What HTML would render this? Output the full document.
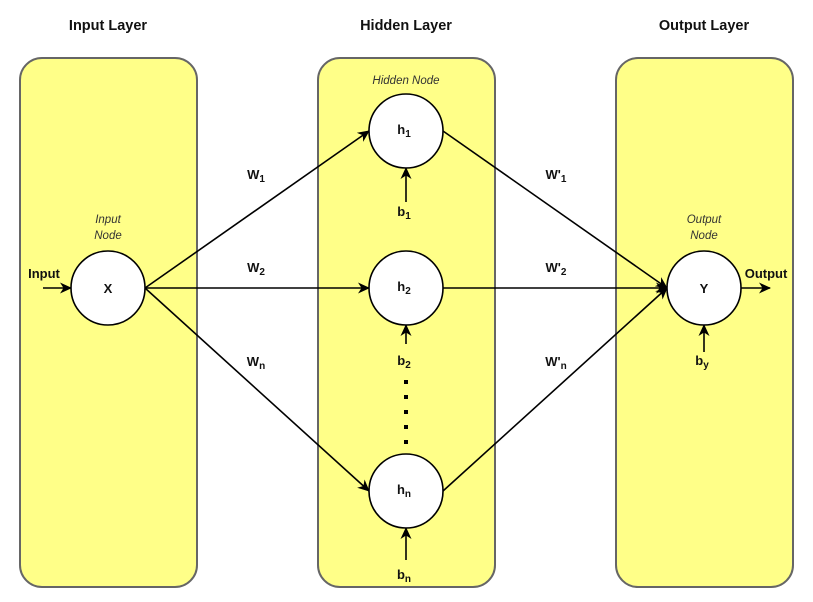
<!DOCTYPE html>
<html><head><meta charset="utf-8"><style>
html,body{margin:0;padding:0;background:#fff;}
svg{display:block;font-family:"Liberation Sans",Arial,sans-serif;}
.t{font-size:14.5px;font-weight:bold;fill:#111;text-anchor:middle;}
.l{font-size:13px;font-weight:bold;fill:#111;text-anchor:middle;}
.s{font-size:10px;}
.i{font-size:11.5px;font-style:italic;fill:#333;text-anchor:middle;}
.ln{stroke:#000;stroke-width:1.6;fill:none;}
</style></head><body>
<svg width="813" height="602" viewBox="0 0 813 602">
<defs><marker id="a" markerWidth="12" markerHeight="12" refX="11" refY="6" orient="auto" markerUnits="userSpaceOnUse"><path d="M0,0.5 L12,6 L0,11.5 L3.5,6 z" fill="#000"/></marker></defs>
<text class="t" x="108" y="30">Input Layer</text>
<text class="t" x="406" y="30">Hidden Layer</text>
<text class="t" x="704" y="30">Output Layer</text>
<rect x="20" y="58" width="177" height="529" rx="22" fill="#ffff88" stroke="#666" stroke-width="2"/>
<rect x="318" y="58" width="177" height="529" rx="22" fill="#ffff88" stroke="#666" stroke-width="2"/>
<rect x="616" y="58" width="177" height="529" rx="22" fill="#ffff88" stroke="#666" stroke-width="2"/>
<text class="i" x="108" y="223">Input</text><text class="i" x="108" y="239">Node</text>
<text class="i" x="406" y="84">Hidden Node</text>
<text class="i" x="704" y="223">Output</text><text class="i" x="704" y="239">Node</text>
<line class="ln" x1="145" y1="288" x2="369" y2="131" marker-end="url(#a)"/>
<line class="ln" x1="145" y1="288" x2="369" y2="288" marker-end="url(#a)"/>
<line class="ln" x1="145" y1="288" x2="369" y2="491" marker-end="url(#a)"/>
<line class="ln" x1="443" y1="131" x2="667" y2="288" marker-end="url(#a)"/>
<line class="ln" x1="443" y1="288" x2="667" y2="288" marker-end="url(#a)"/>
<line class="ln" x1="443" y1="491" x2="667" y2="288" marker-end="url(#a)"/>
<line class="ln" x1="43" y1="288" x2="71" y2="288" marker-end="url(#a)"/>
<line class="ln" x1="741" y1="288" x2="770" y2="288" marker-end="url(#a)"/>
<line class="ln" x1="406" y1="202" x2="406" y2="168" marker-end="url(#a)"/>
<line class="ln" x1="406" y1="344" x2="406" y2="325" marker-end="url(#a)"/>
<line class="ln" x1="406" y1="560" x2="406" y2="528" marker-end="url(#a)"/>
<line class="ln" x1="704" y1="352" x2="704" y2="325" marker-end="url(#a)"/>
<circle cx="108" cy="288" r="37" fill="#fff" stroke="#000" stroke-width="1.6"/>
<circle cx="406" cy="131" r="37" fill="#fff" stroke="#000" stroke-width="1.6"/>
<circle cx="406" cy="288" r="37" fill="#fff" stroke="#000" stroke-width="1.6"/>
<circle cx="406" cy="491" r="37" fill="#fff" stroke="#000" stroke-width="1.6"/>
<circle cx="704" cy="288" r="37" fill="#fff" stroke="#000" stroke-width="1.6"/>
<text class="l" x="108" y="293">X</text>
<text class="l" x="704" y="293">Y</text>
<text class="l" x="404" y="134">h<tspan class="s" dy="3">1</tspan></text>
<text class="l" x="404" y="291">h<tspan class="s" dy="3">2</tspan></text>
<text class="l" x="404" y="494">h<tspan class="s" dy="3">n</tspan></text>
<text class="l" x="404" y="216">b<tspan class="s" dy="3">1</tspan></text>
<text class="l" x="404" y="365">b<tspan class="s" dy="3">2</tspan></text>
<text class="l" x="404" y="579">b<tspan class="s" dy="3">n</tspan></text>
<text class="l" x="702" y="365">b<tspan class="s" dy="3">y</tspan></text>
<text class="l" x="44" y="278">Input</text>
<text class="l" x="766" y="278">Output</text>
<text class="l" x="256" y="179">W<tspan class="s" dy="3">1</tspan></text>
<text class="l" x="256" y="272">W<tspan class="s" dy="3">2</tspan></text>
<text class="l" x="256" y="366">W<tspan class="s" dy="3">n</tspan></text>
<text class="l" x="556" y="179">W'<tspan class="s" dy="3">1</tspan></text>
<text class="l" x="556" y="272">W'<tspan class="s" dy="3">2</tspan></text>
<text class="l" x="556" y="366">W'<tspan class="s" dy="3">n</tspan></text>
<g fill="#000">
<rect x="404" y="380" width="4" height="4"/><rect x="404" y="395" width="4" height="4"/><rect x="404" y="410" width="4" height="4"/><rect x="404" y="425" width="4" height="4"/><rect x="404" y="440" width="4" height="4"/>
</g>
</svg>
</body></html>
